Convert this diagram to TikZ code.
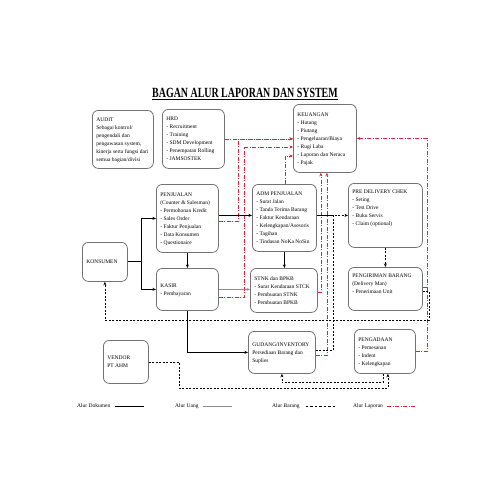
\documentclass[tikz,border=0pt]{standalone}
\usepackage{fontspec}
\setmainfont{Liberation Serif}
\usepackage{graphicx}
\usepackage{xcolor}
\usetikzlibrary{arrows.meta}
\definecolor{lapred}{RGB}{215,35,50}
% fixed-size box content, lines never wrap
\newcommand{\isi}[4][c]{\parbox[c][#3pt][#1]{#2pt}{\begin{tabular}{@{}l@{}}#4\end{tabular}}}

\begin{document}
\begin{tikzpicture}[x=1pt, y=-1pt,
  blok/.style={draw=black!55, line width=0.8pt, rounded corners=6pt, anchor=north west,
    inner sep=4pt, font=\fontsize{5.5}{8}\selectfont},
  legtxt/.style={anchor=west, inner sep=1pt, font=\fontsize{5.5}{8}\selectfont},
  dok/.style={-{Stealth[length=3.5pt,width=3pt]}, line width=1pt},
  uang/.style={-{Stealth[length=3pt,width=2.5pt]}, line width=0.4pt, black!45},
  barang/.style={-{Stealth[length=3.5pt,width=3pt]}, line width=0.8pt, dash pattern=on 2pt off 1.5pt},
  lap/.style={-{Stealth[length=3.5pt,width=3pt]}, line width=0.8pt, lapred,
    dash pattern=on 4pt off 1.5pt on 1pt off 1.5pt}]
\path[fill=white] (0,0) rectangle (495,495);
\useasboundingbox (0,0) rectangle (495,495);

\node[font=\bfseries\fontsize{14}{14}\selectfont, inner sep=0pt] (judul) at (245,93)
  {\scalebox{0.71}[1]{BAGAN ALUR LAPORAN DAN SYSTEM}};
\draw[line width=1.1pt] ([yshift=-1.8pt]judul.south west) -- ([yshift=-1.8pt]judul.south east);

% boxes
\node[blok] (audit) at (92,110) {\isi{53}{50}{AUDIT\\Sebagai kontrol/\\pengendali dan\\pengawasan system,\\kinerja serta fungsi dari\\semua bagian/divisi}};
\node[blok] (hrd) at (162,109) {\isi{54}{51}{HRD\\- Recruitment\\- Training\\- SDM Development\\- Penempatan Rolling\\- JAMSOSTEK}};
\node[blok] (keu) at (293,104) {\isi{55}{60}{KEUANGAN\\- Hutang\\- Piutang\\- Pengeluaran/Biaya\\- Rugi Laba\\- Laporan dan Neraca\\- Pajak}};
\node[blok] (penj) at (156,184) {\isi{54}{60}{PENJUALAN\\(Counter \& Salesman)\\- Permohonan Kredit\\- Sales Order\\- Faktur Penjualan\\- Data Konsumen\\- Questionaire}};
\node[blok] (adm) at (252,184) {\isi{56}{59}{ADM PENJUALAN\\- Surat Jalan\\- Tanda Terima Barang\\- Faktur Kendaraan\\- Kelengkapan/Asesoris\\- Tagihan\\- Tindasan NoKa NoSin}};
\node[blok] (pdc) at (348,183) {\isi[t]{66}{56}{PRE DELIVERY CHEK\\- Seting\\- Test Drive\\- Buku Servis\\- Claim (optional)}};
\node[blok] (kons) at (82,242) {\isi{37}{31}{KONSUMEN}};
\node[blok] (kasir) at (156,268) {\isi{54}{34}{KASIR\\- Pembayaran}};
\node[blok] (stnk) at (250,268) {\isi{59}{36}{STNK dan BPKB\\- Surat Kendaraan STCK\\- Pembuatan STNK\\- Pembuatan BPKB}};
\node[blok] (kirim) at (348,267) {\isi[t]{66}{35}{PENGIRIMAN BARANG\\(Delivery Man)\\- Penerimaan Unit}};
\node[blok] (gud) at (248,331) {\isi{59}{34}{GUDANG/INVENTORY\\Persediaan Barang dan\\Suplies}};
\node[blok] (peng) at (354,329) {\isi{53}{36}{PENGADAAN\\- Pemesanan\\- Indent\\- Kelengkapan}};
\node[blok] (ven) at (103,340) {\isi{37}{35}{VENDOR\\PT AHM}};

% bend points
\coordinate (r1) at (238,0);
\coordinate (r2) at (244,147);
\coordinate (r3) at (285,156);
\coordinate (r5) at (427,0);
\coordinate (j) at (333,0);
\coordinate (b1) at (429,320);
\coordinate (b2) at (179,388);

% alur laporan
\draw[lap] (hrd.east) -- (hrd.east -| keu.west);
\draw[lap] ([yshift=-3pt]penj.east) -| (hrd.east -| r1) -- (hrd.east -| keu.west);
\draw[lap] ([yshift=-8pt]kasir.east) -| (r2) -- (r2 -| keu.west);
\draw[lap] (adm.north -| r3) |- (r3 -| keu.west);
\draw[lap] ([yshift=-2pt]stnk.east) -| ([xshift=-4pt]keu.south);
\draw[lap] ([yshift=-3pt]gud.east) -| ([xshift=2pt]keu.south);
\draw[lap] (peng.east) -| (keu.east -| r5) -- (keu.east);
\draw[lap, -] ([yshift=2pt]kirim.east) -- ([yshift=2pt]kirim.east -| r5);

% alur barang
\draw[barang] ([yshift=-2pt]kirim.east) -| (b1) -| (kons.south);
\draw[barang] (pdc.south) -- (kirim.north);
\draw[barang] ([yshift=2pt]gud.east) -| (pdc.west -| j) -- (pdc.west);
\draw[barang] (ven.east) -| (b2) -| ([xshift=3pt]peng.south);
\draw[barang] ([xshift=-2pt]peng.south) -- ++(0,9) -| (gud.south);

% alur dokumen
\draw[dok] (kons.east) -- ++(14,0) |- (penj.west);
\draw[dok] (kons.east) -- ++(14,0) |- (kasir.west);
\draw[dok] (penj.south) -- (kasir.north);
\draw[dok] (penj.east |- pdc.west) -- (adm.west |- pdc.west);
\draw[dok, -] (adm.east |- pdc.west) -- (pdc.west -| j);
\draw[dok] (adm.south) -- (adm.south |- stnk.north);
\draw[dok] (kasir.south) |- (gud.west);

% alur uang
\draw[uang] (kasir.east) -- (kasir.east -| stnk.west);

% legend
\node[legtxt] (l1) at (76,406) {Alur Dokumen};
\node[legtxt] (l2) at (174,406) {Alur Uang};
\node[legtxt] (l3) at (271,406) {Alur Barang};
\node[legtxt] (l4) at (352,406) {Alur Laporan};
\draw[dok, -] ([xshift=3pt]l1.east) -- ++(29,0);
\draw[uang, -] ([xshift=3pt]l2.east) -- ++(29,0);
\draw[barang, -, dash pattern=on 2.5pt off 2pt] ([xshift=5pt]l3.east) -- ++(31,0);
\draw[lap, -] ([xshift=3pt]l4.east) -- ++(29,0);
\end{tikzpicture}
\end{document}
